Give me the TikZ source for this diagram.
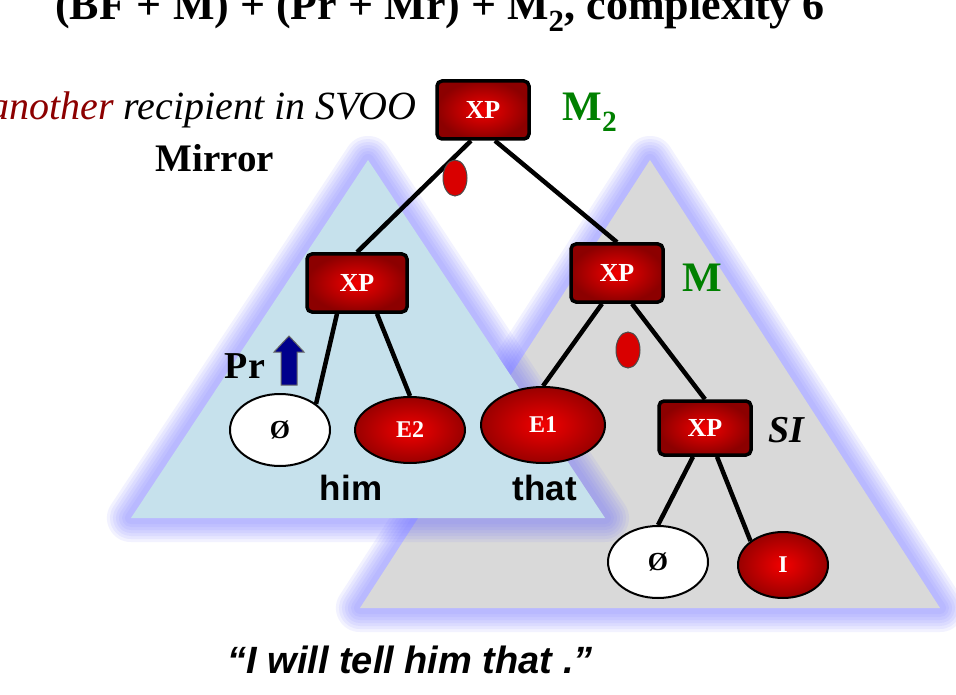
\documentclass[tikz,border=0pt]{standalone}
\usepackage{fontspec}
\setmainfont{Liberation Serif}
\setsansfont{Liberation Sans}
\usetikzlibrary{shapes.geometric}
\begin{document}
\begin{tikzpicture}[x=1pt,y=-1pt,
  xpbox/.style={draw=black,line width=3.5pt,rounded corners=5pt,inner color=red!95!black,outer color=red!55!black,minimum width=92pt,minimum height=58pt,text=white,font=\bfseries\fontsize{26}{26}\selectfont},
  redball/.style={ellipse,draw=black,line width=2pt,inner color=red!95!black,outer color=red!60!black,text=white,font=\bfseries\fontsize{24}{24}\selectfont},
  whiteball/.style={ellipse,draw=black,line width=2pt,fill=white,font=\bfseries\fontsize{26}{26}\selectfont},
  dot/.style={ellipse,draw=black!70,line width=1pt,fill=red!85!black,minimum width=24pt,minimum height=36pt,inner sep=0pt},
  edge/.style={line width=4.5pt},
  glow/.style={draw=blue!55!white,line join=round,opacity=0.09},
  lbl/.style={font=\sffamily\bfseries\fontsize{35}{35}\selectfont}]
\useasboundingbox (0,0) rectangle (956,695);
\clip (0,0) rectangle (956,695);
\fill[white] (0,0) rectangle (956,695);
\node[font=\bfseries\fontsize{44}{44}\selectfont,anchor=base] (title) at (440,20) {(BF + M) + (Pr + Mr) + M\textsubscript{2}, complexity 6};
% right triangle
\foreach \w in {48,42,36,30,24,18,12}{\draw[glow,line width=\w pt] (650,160) -- (940,608) -- (360,608) -- cycle;}
\fill[gray!30] (650,160) -- (940,608) -- (360,608) -- cycle;
% left triangle
\foreach \w in {48,42,36,30,24,18,12}{\draw[glow,line width=\w pt] (368,160) -- (605,518) -- (131,518) -- cycle;}
\fill[cyan!20!white!85!gray] (368,160) -- (605,518) -- (131,518) -- cycle;
% nodes
\node[xpbox] (top) at (483,110) {XP};
\node[xpbox,minimum width=100pt] (xl) at (357,283) {XP};
\node[xpbox] (xr) at (617,273) {XP};
\node[xpbox,minimum height=54pt] (xs) at (705,428) {XP};
\node[whiteball,minimum width=100pt,minimum height=72pt] (o1) at (280,430) {Ø};
\node[redball,minimum width=110pt,minimum height=66pt] (e2) at (410,430) {E2};
\node[redball,minimum width=124pt,minimum height=76pt] (e1) at (543,425) {E1};
\node[whiteball,minimum width=100pt,minimum height=72pt] (o2) at (658,562) {Ø};
\node[redball,minimum width=90pt,minimum height=66pt] (i) at (783,565) {I};
% edges
\coordinate (d1) at (455,178);
\coordinate (d2) at (628,350);
\draw[edge] (top.south) ++(-12,0) coordinate (t1) -- (xl.north);
\draw[edge] (top.south) ++(12,0) -- (xr.north);
\draw[edge] (xl.south) ++(-20,0) -- (o1.north east);
\draw[edge] (xl.south) ++(20,0) -- (e2.north);
\draw[edge] (xr.south) ++(-15,0) -- (e1.north);
\draw[edge] (xr.south) ++(15,0) -- (xs.north);
\draw[edge] (xs.south) ++(-12,0) -- (o2.north);
\draw[edge] (xs.south) ++(12,0) -- (i.north west);
\node[dot] (m1) at (d1) {};
\node[dot] (m2) at (d2) {};
% labels
\node[font=\bfseries\fontsize{42}{42}\selectfont,text=green!50!black] (lm2) at (590,112) {M\textsubscript{2}};
\node[font=\bfseries\fontsize{42}{42}\selectfont,text=green!50!black] (lm) at (702,278) {M};
\node[font=\itshape\fontsize{40}{40}\selectfont,anchor=east] (svoo) at (420,110) {\textcolor{red!55!black}{another} recipient in SVOO};
\node[font=\bfseries\fontsize{39}{39}\selectfont] (mirror) at (215,158) {Mirror};
\node[font=\bfseries\fontsize{38}{38}\selectfont] (pr) at (245,366) {Pr};
\draw[line width=1pt,draw=black!60,fill=blue!55!black] (281,385) -- (281,352) -- (274,352) -- (289,336) -- (304,352) -- (297,352) -- (297,385) -- cycle;
\node[font=\bfseries\itshape\fontsize{38}{38}\selectfont] (si) at (786,430) {SI};
\node[lbl] (him) at (351,488) {him};
\node[lbl] (that) at (545,488) {that};
\node[font=\sffamily\bfseries\itshape\fontsize{38}{38}\selectfont] (quote) at (410,660) {“I will tell him that .”};
\end{tikzpicture}
\end{document}
